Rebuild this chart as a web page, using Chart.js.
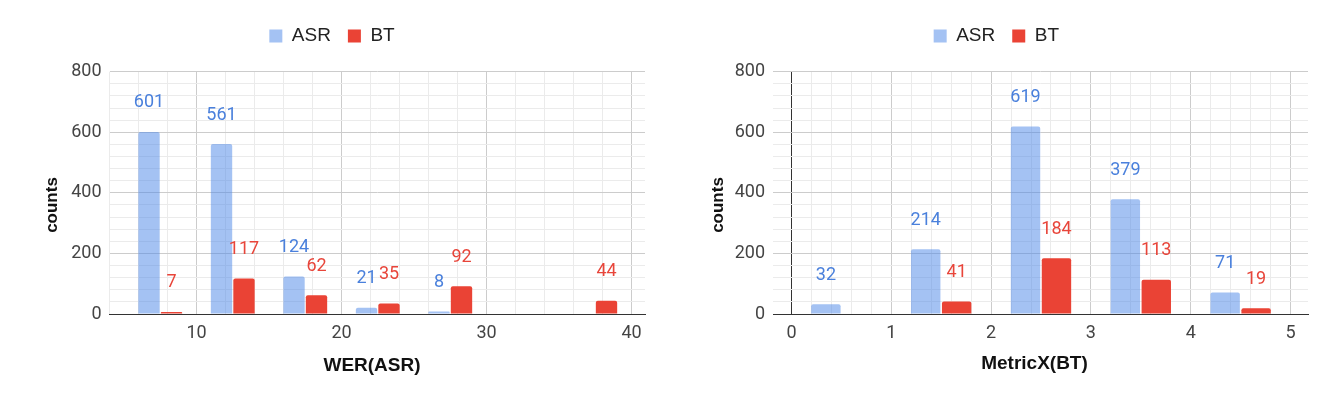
<!DOCTYPE html>
<html><head><meta charset="utf-8">
<script src="https://cdn.jsdelivr.net/npm/chart.js@4"></script>
<style>
html,body{margin:0;padding:0;background:#fff;}
#wrap{display:flex;width:1332px;height:419px;}
.cell{width:666px;height:419px;position:relative;}
canvas{display:block;}
</style></head><body>
<div id="wrap"><div class="cell"><canvas id="c1" width="666" height="419"></canvas></div><div class="cell"><canvas id="c2" width="666" height="419"></canvas></div></div>
<script>
// ---- data ----
const seriesNames = ['ASR', 'BT'];
const werBins = [7.5, 12.5, 17.5, 22.5, 27.5, 37.5];
const werASR = [601, 561, 124, 21, 8, null];
const werBT = [7, 117, 62, 35, 92, 44];
const werTickLabels = [10, 20, 30, 40];
const metricBins = [0.5, 1.5, 2.5, 3.5, 4.5];
const metricASR = [32, 214, 619, 379, 71];
const metricBT = [null, 41, 184, 113, 19];
const metricTickLabels = [0, 1, 2, 3, 4, 5];
const countTickLabels = [0, 200, 400, 600, 800];
const xTitles = ['WER(ASR)', 'MetricX(BT)'];
const yTitle = 'counts';

// ---- style ----
const ASR_FILL = 'rgba(74,134,232,0.5)';
const BT_FILL = '#ea4335';
const ASR_LABEL = '#4a80dc';
const BT_LABEL = '#e8453a';
const MAJOR_GRID = '#cccccc';
const MINOR_GRID = '#ebebeb';
const AXIS_DARK = '#333333';
const TICK_FONT = {family: 'Roboto', size: 18};
const CHART_TOP = 71.7, CHART_BOTTOM = 314, PAD_TOP = 9.5;
const GROUP_FRACTION = 0.62;

function rnd(v){ return Math.round(v * 1000) / 1000; }

const legendGap = {
  id: 'legendGap',
  beforeLayout(chart) {
    const lg = chart.legend;
    if (lg && !lg._patched) {
      const f = lg.fit;
      lg.fit = function () { f.call(this); this.height = CHART_TOP - PAD_TOP; };
      lg._patched = true;
    }
  }
};

const dataLabels = {
  id: 'dataLabels',
  afterDatasetsDraw(chart) {
    const ctx = chart.ctx;
    ctx.save();
    ctx.font = '18px Roboto';
    ctx.textAlign = 'center';
    ctx.textBaseline = 'middle';
    chart.data.datasets.forEach((ds, di) => {
      const meta = chart.getDatasetMeta(di);
      ctx.fillStyle = di === 0 ? ASR_LABEL : BT_LABEL;
      meta.data.forEach((el, i) => {
        const v = ds.data[i].y;
        ctx.fillText(String(v), el.x, el.y - 29);
      });
    });
    ctx.restore();
  }
};

const axisTitles = {
  id: 'axisTitles',
  afterDraw(chart) {
    const o = chart.options.plugins.axisTitles;
    const ctx = chart.ctx;
    ctx.save();
    ctx.fillStyle = '#111';
    ctx.font = 'bold 19px "Liberation Sans", Arial, sans-serif';
    ctx.textAlign = 'center';
    ctx.textBaseline = 'alphabetic';
    ctx.fillText(o.x, o.xX, o.xY);
    ctx.font = 'bold 17px "Liberation Sans", Arial, sans-serif';
    ctx.translate(o.yX, o.yY);
    ctx.rotate(-Math.PI / 2);
    ctx.fillText(o.y, 0, 0);
    ctx.restore();
  }
};

function toPoints(bins, vals) {
  const out = [];
  bins.forEach((b, i) => { if (vals[i] !== null) out.push({x: b, y: vals[i]}); });
  return out;
}

function makeChart(id, c) {
  // Chart.js uses the smallest spacing among data points and ticks; ticks are every xStep,
  // so scale the category percentage so that each group covers GROUP_FRACTION of a bin.
  const catPct = GROUP_FRACTION * c.binWidth / c.xStep;
  return new Chart(document.getElementById(id), {
    type: 'bar',
    data: {
      datasets: [
        {label: seriesNames[0], data: toPoints(c.bins, c.asr), backgroundColor: ASR_FILL,
         borderRadius: 2, categoryPercentage: catPct, barPercentage: 0.95},
        {label: seriesNames[1], data: toPoints(c.bins, c.bt), backgroundColor: BT_FILL,
         borderRadius: 2, categoryPercentage: catPct, barPercentage: 0.95}
      ]
    },
    options: {
      responsive: false,
      animation: false,
      devicePixelRatio: 1,
      layout: {padding: {left: c.padL, right: c.padR, top: PAD_TOP, bottom: 0}},
      plugins: {
        tooltip: {enabled: false},
        legend: {
          position: 'top',
          labels: {boxWidth: 13, boxHeight: 13, padding: 17, color: '#222',
                   font: {family: '"Liberation Sans", Arial, sans-serif', size: 19}}
        },
        axisTitles: {x: c.xTitle, xX: c.xTitleX, xY: c.xTitleY, y: yTitle, yX: 57, yY: 205}
      },
      scales: {
        x: {
          type: 'linear', min: c.xMin, max: c.xMax, offset: false,
          grid: {offset: false, drawTicks: false,
                 color: (ctx) => {
                   const v = ctx.tick ? rnd(ctx.tick.value) : null;
                   if (v === 0) return AXIS_DARK;
                   return c.xLabels.includes(v) ? MAJOR_GRID : MINOR_GRID;
                 }},
          border: {display: true, color: AXIS_DARK, width: 1},
          afterBuildTicks: (s) => {
            const t = [];
            const start = Math.ceil(rnd(c.xMin / c.xStep)) * c.xStep;
            for (let v = start; v <= c.xMax + 1e-9; v += c.xStep) t.push({value: rnd(v)});
            s.ticks = t;
          },
          afterFit: (s) => { s.height = 419 - CHART_BOTTOM; },
          ticks: {autoSkip: false, maxRotation: 0, padding: 9, color: '#444', font: TICK_FONT,
                  callback: (v) => c.xLabels.includes(rnd(v)) ? String(rnd(v)) : ''}
        },
        y: {
          type: 'linear', min: 0, max: 800,
          grid: {drawTicks: false,
                 color: (ctx) => {
                   const v = ctx.tick ? ctx.tick.value : null;
                   if (v === 0) return AXIS_DARK;
                   return countTickLabels.includes(v) ? MAJOR_GRID : MINOR_GRID;
                 }},
          border: {display: false},
          afterBuildTicks: (s) => {
            const t = [];
            for (let v = 0; v <= 800; v += 40) t.push({value: v});
            s.ticks = t;
          },
          afterFit: (s) => { s.width = c.yWidth; },
          ticks: {autoSkip: false, padding: 8, color: '#444', font: TICK_FONT,
                  callback: (v) => countTickLabels.includes(v) ? String(v) : ''}
        }
      }
    },
    plugins: [legendGap, dataLabels, axisTitles]
  });
}

makeChart('c1', {
  bins: werBins, binWidth: 5, asr: werASR, bt: werBT, xMin: 4, xMax: 40.93, xStep: 2, xLabels: werTickLabels,
  xTitle: xTitles[0], xTitleX: 372, xTitleY: 371, padL: 19, padR: 21, yWidth: 90.5
});
makeChart('c2', {
  bins: metricBins, binWidth: 1, asr: metricASR, bt: metricBT, xMin: -0.185, xMax: 5.175, xStep: 0.2, xLabels: metricTickLabels,
  xTitle: xTitles[1], xTitleX: 368.5, xTitleY: 368.5, padL: 18.7, padR: 24, yWidth: 88.3
});
</script>
</body></html>
